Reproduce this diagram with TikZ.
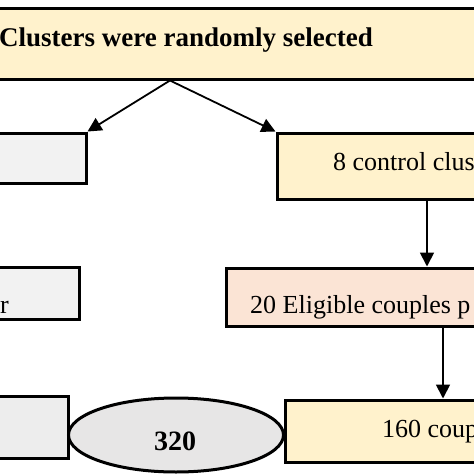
\documentclass[tikz,border=0pt]{standalone}
\usepackage{fontspec}
\setmainfont{Liberation Serif}
\usetikzlibrary{arrows.meta,shapes.geometric,calc}
\definecolor{topfill}{HTML}{FFF2CC}
\definecolor{peach}{HTML}{FBE4D5}
\definecolor{grayA}{HTML}{F2F2F2}
\definecolor{grayB}{HTML}{EDEDED}
\definecolor{ellfill}{HTML}{E7E6E6}
\begin{document}
\begin{tikzpicture}[x=1pt,y=-1pt,
  box/.style={draw,line width=3pt,rectangle,inner sep=0pt},
  lab/.style={font=\fontsize{26}{30}\selectfont,inner sep=0pt},
  blab/.style={font=\fontsize{27}{32}\selectfont\bfseries,inner sep=0pt},
  arr/.style={line width=1.8pt,-{Triangle[length=14pt,width=14pt]}}]
\useasboundingbox (0,0) rectangle (474,474);
\clip (0,0) rectangle (474,474);
\fill[white] (0,0) rectangle (474,474);
% boxes
\node[box,fill=topfill,minimum width=500pt,minimum height=70.5pt] (top) at (237,43.75) {};
\node[box,fill=grayA,minimum width=106pt,minimum height=50pt] (left1) at (33,158) {};
\node[box,fill=topfill,minimum width=220pt,minimum height=66pt] (right1) at (387,166) {};
\node[box,fill=grayA,minimum width=99pt,minimum height=52pt] (left2) at (29.5,293) {};
\node[box,fill=peach,minimum width=274pt,minimum height=58pt] (right2) at (363,297) {};
\node[box,fill=grayB,minimum width=88pt,minimum height=62pt] (left3) at (24,427) {};
\node[draw,ellipse,line width=3pt,fill=ellfill,minimum width=215pt,minimum height=74pt,inner sep=0pt] (ell) at (176,435) {};
\node[box,fill=topfill,minimum width=215pt,minimum height=62pt] (right3) at (392.5,431) {};
% texts
\node[blab,anchor=base west] (t0) at (-1,46) {Clusters were randomly selected};
\node[lab,anchor=base west] (t1) at (333,170) {8 control clus};
\node[lab,anchor=base east] (t2) at (9,313) {r};
\node[lab,anchor=base west] (t3) at (250,313) {20 Eligible couples p};
\node[lab,anchor=base west] (t4) at (382,437) {160 coup};
\node[font=\fontsize{28}{32}\selectfont\bfseries,inner sep=0pt,anchor=base] (t5) at (175,450) {320};
% connectors
\draw[arr] ([xshift=-67pt]top.south) -- (left1.north east);
\draw[arr] ([xshift=-67pt]top.south) -- (right1.north west);
\draw[arr] ($(right1.south)+(40,0)$) -- ($(right1.south |- right2.north)+(40,0)$);
\draw[arr] ($(right2.south)+(80,0)$) -- ($(right2.south |- right3.north)+(80,0)$);
\end{tikzpicture}
\end{document}
